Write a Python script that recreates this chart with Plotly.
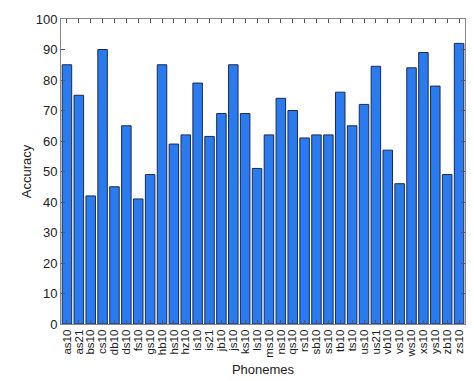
import plotly.graph_objects as go

phonemes = ["as10", "as21", "bs10", "cs10", "db10", "ds10", "fs10", "gs10", "hb10", "hs10",
            "hz10", "is10", "is21", "jb10", "js10", "ks10", "ls10", "ms10", "ns10", "qs10",
            "rs10", "sb10", "ss10", "tb10", "ts10", "us10", "us21", "vb10", "vs10", "ws10",
            "xs10", "ys10", "zb10", "zs10"]
accuracy = [85, 75, 42, 90, 45, 65, 41, 49, 85, 59,
            62, 79, 61.5, 69, 85, 69, 51, 62, 74, 70,
            61, 62, 62, 76, 65, 72, 84.5, 57, 46, 84,
            89, 78, 49, 92]
y_ticks = [0, 10, 20, 30, 40, 50, 60, 70, 80, 90, 100]

fig = go.Figure(go.Bar(
    x=phonemes, y=accuracy,
    marker=dict(color="#2a7bf0", line=dict(color="#1b2b4f", width=1)),
))

font = dict(family="Liberation Sans, Arial, sans-serif", size=12, color="#222")
fig.update_layout(
    width=466, height=373,
    margin=dict(l=53, r=9, t=11, b=57),
    paper_bgcolor="white", plot_bgcolor="white",
    bargap=0.2,
    showlegend=False,
    font=font,
)
fig.update_xaxes(
    tickmode="array", tickvals=phonemes, ticktext=phonemes,
    tickangle=-90, showline=True, linecolor="#888", linewidth=1, mirror="ticks",
    ticks="inside", ticklen=4, tickcolor="#555", automargin=False,
    title=dict(text="Phonemes", font=dict(size=13), standoff=8),
    tickfont=dict(size=11.5),
)
fig.update_yaxes(
    range=[0, 100], tickvals=y_ticks, showline=True, linecolor="#888", linewidth=1,
    mirror="ticks", ticks="inside", ticklen=4, tickcolor="#555",
    showgrid=False, zeroline=False, automargin=False,
    title=dict(text="Accuracy", font=dict(size=13), standoff=1),
    tickfont=dict(size=13),
)
fig.write_html("out.html")
